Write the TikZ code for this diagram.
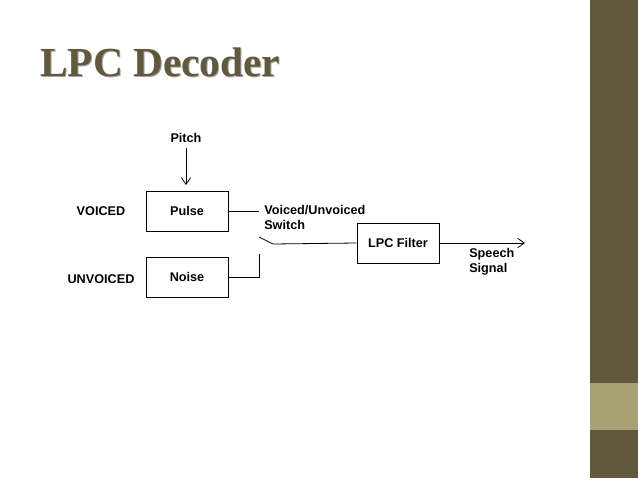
\documentclass[tikz,border=0pt]{standalone}
\usepackage{fontspec}
\usetikzlibrary{arrows.meta}
\setmainfont{Liberation Serif}
\newfontfamily\arialf{Liberation Sans}
\begin{document}
\begin{tikzpicture}[x=0.75pt,y=-0.75pt,
  blk/.style={draw,semithick,minimum width=61.5pt,minimum height=30pt,inner sep=0pt,font=\arialf\bfseries\fontsize{9.5}{11}\selectfont},
  lbl/.style={font=\arialf\bfseries\fontsize{9.5}{11}\selectfont,inner sep=0pt},
  wire/.style={semithick},
  arr/.style={-{Straight Barb[length=5pt,width=7pt]}}]
\useasboundingbox (0,0) rectangle (638,478);
\definecolor{olive1}{RGB}{98,88,62}
\definecolor{olive2}{RGB}{166,162,116}
\fill[white] (0,0) rectangle (638,478);
\fill[olive1] (590,0) rectangle (638,478);
\fill[olive2] (590,383) rectangle (638,430);
\node[anchor=west,text=black!35,font=\bfseries\fontsize{31}{34}\selectfont,inner sep=0pt] at (41,63) {LPC Decoder};
\node[anchor=west,text=olive1,font=\bfseries\fontsize{31}{34}\selectfont,inner sep=0pt] (title) at (40,62) {LPC Decoder};
\node[blk] (pulse) at (187,211) {Pulse};
\node[blk] (noise) at (187,277) {Noise};
\node[blk] (lpc) at (398,243) {LPC Filter};
\node[lbl] (pitch) at (186,138) {Pitch};
\node[lbl] (voiced) at (101,211) {VOICED};
\node[lbl] (unvoiced) at (101,279) {UNVOICED};
\node[lbl,anchor=north west,align=left] (sw) at (264,205) {Voiced/Unvoiced\\Switch};
\node[lbl,anchor=north west,align=left] (sp) at (469,248) {Speech\\Signal};
\coordinate (ps) at (186,148);
\coordinate (pa) at (186,185);
\coordinate (pe) at (259,211);
\coordinate (ne) at (259,254);
\coordinate (bs) at (259,237);
\coordinate (bm) at (273,244);
\coordinate (out) at (525,243);
\draw[wire,arr] (ps) -- (pa);
\draw[wire] (pulse.east) -- (pe);
\draw[wire] (noise.east) -| (ne);
\draw[wire] (bs) -- (bm) -- (lpc.west);
\draw[wire,arr] (lpc.east) -- (out);
\end{tikzpicture}
\end{document}
